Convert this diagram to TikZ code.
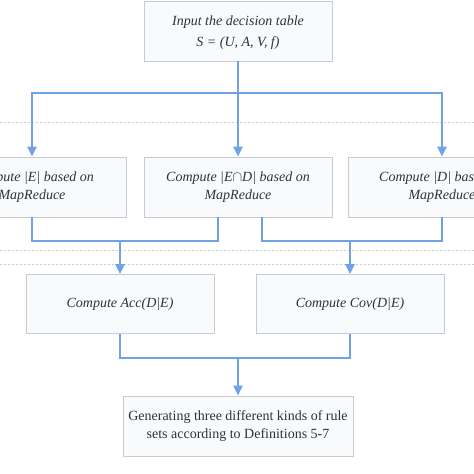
\documentclass[tikz,border=0pt]{standalone}
\usepackage{fontspec}
\setmainfont{Liberation Serif}
\usepackage{tikz}
\usetikzlibrary{arrows.meta,positioning}

\definecolor{flowblue}{RGB}{112,162,230}
\definecolor{boxline}{RGB}{200,204,208}
\definecolor{boxfill}{RGB}{248,250,252}
\definecolor{guide}{RGB}{205,205,205}
\definecolor{boxtext}{RGB}{50,50,50}

\tikzset{
  stepbox/.style={draw=boxline, fill=boxfill, line width=0.8pt, text=boxtext,
    minimum width=188pt, minimum height=60pt, inner sep=2pt,
    align=center, font=\fontsize{14}{17.5}\selectfont\itshape},
  flow/.style={draw=flowblue, line width=2.2pt},
  flowarrow/.style={flow, -{Triangle[length=10pt,width=9pt]}}
}

\begin{document}
\begin{tikzpicture}[x=1pt,y=-1pt]
\clip (0,0) rectangle (474,474);
\fill[white] (0,0) rectangle (474,474);
% dotted guide lines behind the flow
\draw[guide, dash pattern=on 2pt off 2pt, line width=0.6pt]
(0,122) -- (474,122)
(0,250) -- (474,250)
(0,264) -- (474,264);

\node[stepbox, text depth=0pt] (input) at (238,31) {Input the decision table\\[4pt] S = (U, A, V, f)};
\node[stepbox] (cntE) at (32,187) {Compute |E| based on\\MapReduce};
\node[stepbox] (cntED) at (238,187) {Compute |E$\cap$D| based on\\MapReduce};
\node[stepbox] (cntD) at (442,187) {Compute |D| based on\\MapReduce};
\node[stepbox, minimum height=59pt] (acc) at (120,304) {Compute Acc(D|E)};
\node[stepbox, minimum height=59pt] (cov) at (350,304) {Compute Cov(D|E)};
\node[stepbox, minimum width=230pt, font=\fontsize{14}{18}\selectfont] (rules) at (238,426)
  {Generating three different kinds of rule\\sets according to Definitions 5-7};

% split into the three counts
\coordinate (split) at (238,93);
\draw[flow] (input.south) -- (split);
\draw[flowarrow] (split) -| (cntE.north);
\draw[flowarrow] (split) -| (cntD.north);
\draw[flowarrow] (split) -- (cntED.north);

% merge the counts pairwise
\coordinate (joinA) at (120,241);
\coordinate (joinB) at (350,241);
\draw[flow] (cntE.south) |- (joinA) -| ([xshift=-20pt]cntED.south);
\draw[flow] ([xshift=24pt]cntED.south) |- (joinB) -| (cntD.south);
\draw[flowarrow] (joinA) -- (acc.north);
\draw[flowarrow] (joinB) -- (cov.north);

% merge into the rule sets
\coordinate (joinC) at (238,358);
\draw[flow] (acc.south) |- (joinC) -| (cov.south);
\draw[flowarrow] (joinC) -- (rules.north);
\end{tikzpicture}
\end{document}
